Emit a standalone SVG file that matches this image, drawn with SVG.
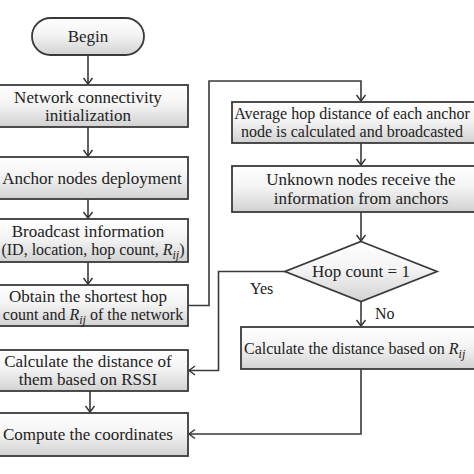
<svg xmlns="http://www.w3.org/2000/svg" width="474" height="474" viewBox="0 0 474 474">
<defs>
<linearGradient id="g" x1="0" y1="0" x2="0" y2="1">
<stop offset="0" stop-color="#ffffff"/>
<stop offset="0.45" stop-color="#f4f4f4"/>
<stop offset="1" stop-color="#d2d2d2"/>
</linearGradient>
<marker id="arr" markerUnits="userSpaceOnUse" markerWidth="10" markerHeight="12" viewBox="-8 -6 10 12" refX="0" refY="0" orient="auto">
<path d="M-6,-4.5 L0,0 L-6,4.5" fill="none" stroke="#333" stroke-width="1.4"/>
</marker>
<style>
.box{fill:url(#g);stroke:#3a3a3a;stroke-width:1.8}
.t{font-family:"Liberation Serif","Times New Roman",serif;font-size:17px;fill:#222;text-anchor:middle}
.n{font-size:16px}
.l{font-family:"Liberation Serif","Times New Roman",serif;font-size:16px;fill:#222}
.c{fill:none;stroke:#3a3a3a;stroke-width:1.6;marker-end:url(#arr)}
.i{font-style:italic}
.s{font-style:italic;font-size:12px}
</style>
</defs>
<rect width="474" height="474" fill="#ffffff"/>
<g id="connectors">
<path class="c" d="M88,55 V84"/>
<path class="c" d="M88,127 V156"/>
<path class="c" d="M88,199 V218"/>
<path class="c" d="M88,262 V284"/>
<path class="c" d="M188,305.5 H209 V81 H361 V101"/>
<path class="c" d="M361,143 V165"/>
<path class="c" d="M361,212 V241"/>
<path class="c" d="M285,271.5 H218.5 V370.5 H189"/>
<path class="c" d="M361,301 V326"/>
<path class="c" d="M361,369 V434 H189"/>
<path class="c" d="M90,391 V412"/>
<text class="l" x="250" y="294">Yes</text>
<text class="l" x="375" y="319">No</text>
</g>
<g id="begin">
<rect class="box" x="32" y="18" width="112" height="37" rx="18.5"/>
<text class="t" x="88" y="42">Begin</text>
</g>
<g id="network">
<rect class="box" x="-12" y="85" width="200" height="42"/>
<text class="t" x="88" y="103">Network connectivity</text>
<text class="t" x="88" y="121">initialization</text>
</g>
<g id="anchor">
<rect class="box" x="-12" y="157" width="200" height="42"/>
<text class="t" x="92" y="184">Anchor nodes deployment</text>
</g>
<g id="broadcast">
<rect class="box" x="-12" y="219" width="200" height="43"/>
<text class="t" x="88" y="237">Broadcast information</text>
<text class="t n" x="93" y="255">(ID, location, hop count, <tspan class="i">R</tspan><tspan class="s" dy="4">ij</tspan><tspan dy="-4">)</tspan></text>
</g>
<g id="obtain">
<rect class="box" x="-12" y="285" width="200" height="41"/>
<text class="t" x="88" y="302">Obtain the shortest hop</text>
<text class="t n" x="93" y="320">count and <tspan class="i">R</tspan><tspan class="s" dy="4">ij</tspan><tspan dy="-4"> of the network</tspan></text>
</g>
<g id="rssi">
<rect class="box" x="-12" y="350" width="200" height="41"/>
<text class="t" x="88" y="367">Calculate the distance of</text>
<text class="t" x="88" y="385">them based on RSSI</text>
</g>
<g id="compute">
<rect class="box" x="-12" y="413" width="200" height="43"/>
<text class="t" x="88" y="440">Compute the coordinates</text>
</g>
<g id="average">
<rect class="box" x="232" y="102" width="260" height="41"/>
<text class="t n" x="352" y="119">Average hop distance of each anchor</text>
<text class="t n" x="352" y="137">node is calculated and broadcasted</text>
</g>
<g id="unknown">
<rect class="box" x="232" y="166" width="260" height="46"/>
<text class="t" x="361" y="185">Unknown nodes receive the</text>
<text class="t" x="361" y="204">information from anchors</text>
</g>
<g id="decision">
<path class="box" d="M361,241.5 L437,271.5 L361,301.5 L285,271.5 Z"/>
<text class="t" x="361" y="277">Hop count = 1</text>
</g>
<g id="calcrij">
<rect class="box" x="241" y="327" width="250" height="42"/>
<text class="t n" x="244" y="354" style="text-anchor:start">Calculate the distance based on <tspan class="i">R</tspan><tspan class="s" dy="4">ij</tspan></text>
</g>
</svg>
